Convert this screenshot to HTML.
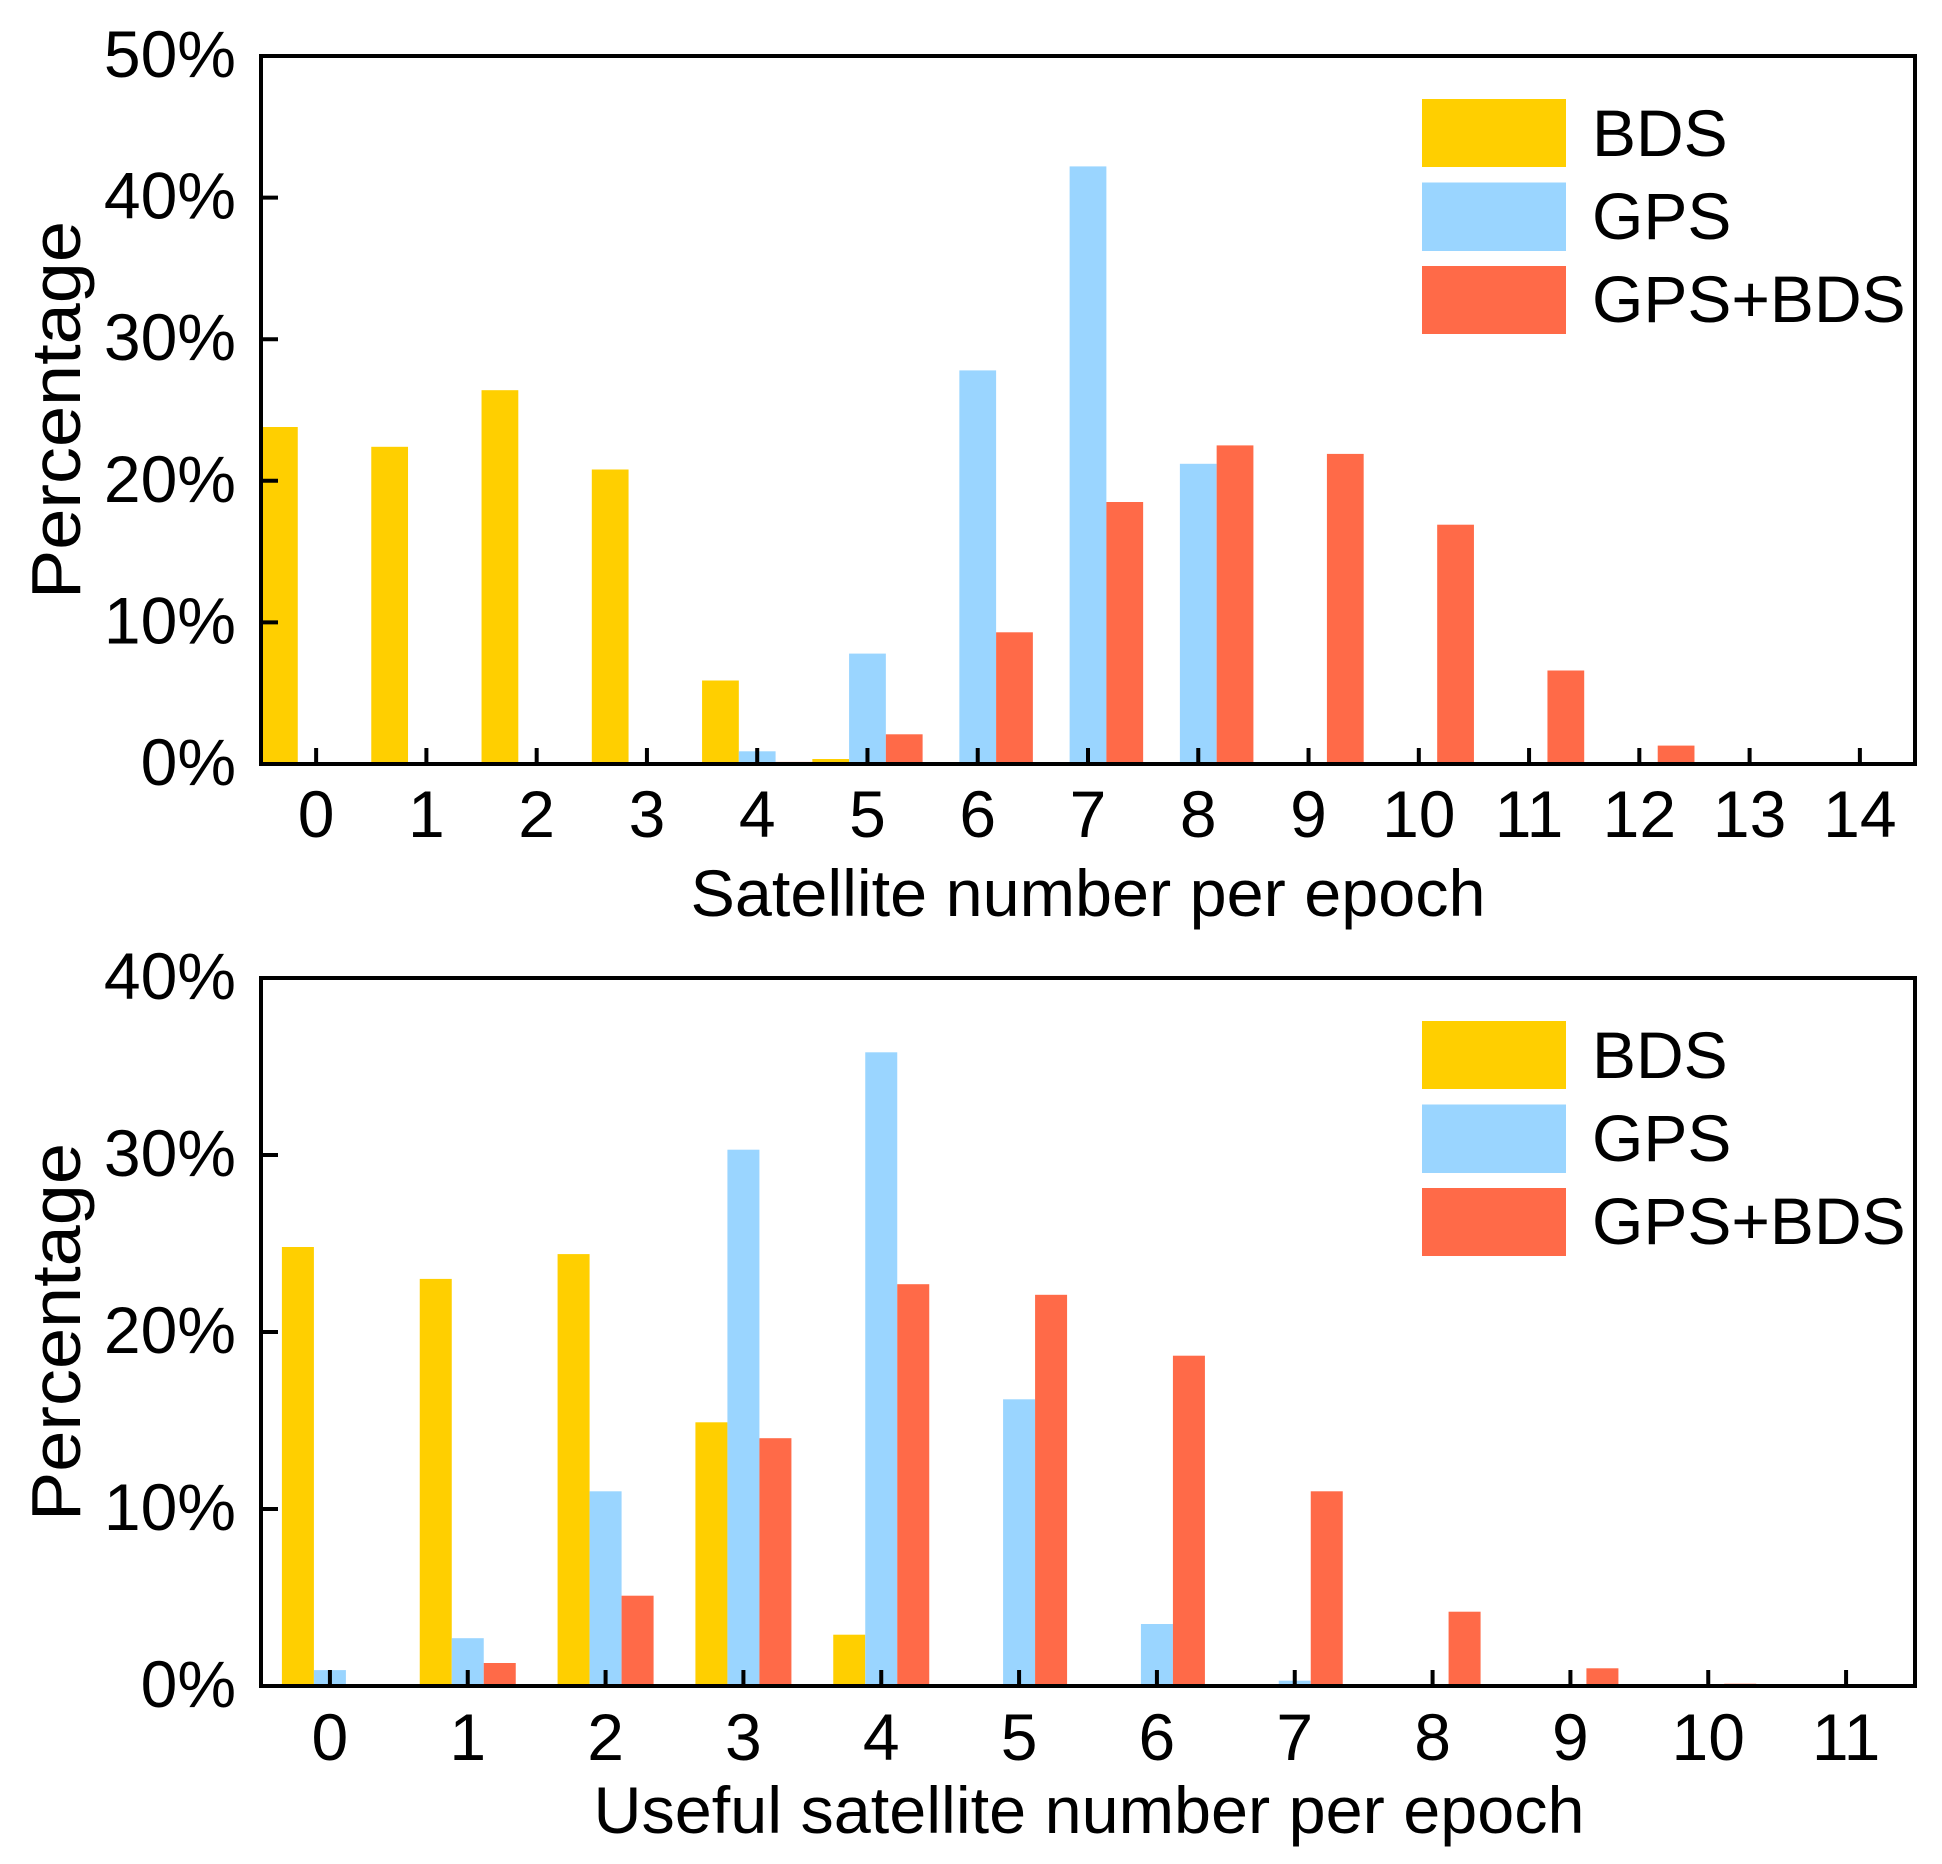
<!DOCTYPE html>
<html>
<head>
<meta charset="utf-8">
<style>
  html,body{margin:0;padding:0;background:#fff;}
  svg{display:block;}
  text{font-family:"Liberation Sans",Arial,sans-serif;fill:#000;}
</style>
</head>
<body>
<svg width="1942" height="1864" viewBox="0 0 1942 1864" xmlns="http://www.w3.org/2000/svg">
<rect x="0" y="0" width="1942" height="1864" fill="#fff"/>

<!-- ============ TOP PLOT ============ -->
<g>
  <!-- BDS -->
  <g fill="#FFCF00">
    <rect x="261.0" y="427.0" width="36.76" height="337.0"/>
    <rect x="371.27" y="446.8" width="36.76" height="317.2"/>
    <rect x="481.54" y="390.2" width="36.76" height="373.8"/>
    <rect x="591.8" y="469.5" width="36.76" height="294.5"/>
    <rect x="702.07" y="680.5" width="36.76" height="83.5"/>
    <rect x="812.34" y="759.0" width="36.76" height="5.0"/>
  </g>
  <!-- GPS -->
  <g fill="#9AD5FF">
    <rect x="738.82" y="751.3" width="36.76" height="12.7"/>
    <rect x="849.09" y="653.6" width="36.76" height="110.4"/>
    <rect x="959.35" y="370.4" width="36.76" height="393.6"/>
    <rect x="1069.62" y="166.4" width="36.76" height="597.6"/>
    <rect x="1179.89" y="463.8" width="36.76" height="300.2"/>
  </g>
  <!-- GPS+BDS -->
  <g fill="#FF6A48">
    <rect x="775.58" y="761.9" width="36.76" height="2.1"/>
    <rect x="885.85" y="734.3" width="36.76" height="29.7"/>
    <rect x="996.11" y="632.3" width="36.76" height="131.7"/>
    <rect x="1106.38" y="502.0" width="36.76" height="262.0"/>
    <rect x="1216.65" y="445.4" width="36.76" height="318.6"/>
    <rect x="1326.91" y="453.9" width="36.76" height="310.1"/>
    <rect x="1437.18" y="524.7" width="36.76" height="239.3"/>
    <rect x="1547.45" y="670.5" width="36.76" height="93.5"/>
    <rect x="1657.71" y="745.6" width="36.76" height="18.4"/>
  </g>

  <!-- ticks -->
  <g stroke="#000" stroke-width="4">
    <line x1="316.13" y1="764" x2="316.13" y2="748"/>
    <line x1="426.4" y1="764" x2="426.4" y2="748"/>
    <line x1="536.67" y1="764" x2="536.67" y2="748"/>
    <line x1="646.93" y1="764" x2="646.93" y2="748"/>
    <line x1="757.2" y1="764" x2="757.2" y2="748"/>
    <line x1="867.47" y1="764" x2="867.47" y2="748"/>
    <line x1="977.73" y1="764" x2="977.73" y2="748"/>
    <line x1="1088.0" y1="764" x2="1088.0" y2="748"/>
    <line x1="1198.27" y1="764" x2="1198.27" y2="748"/>
    <line x1="1308.53" y1="764" x2="1308.53" y2="748"/>
    <line x1="1418.8" y1="764" x2="1418.8" y2="748"/>
    <line x1="1529.07" y1="764" x2="1529.07" y2="748"/>
    <line x1="1639.33" y1="764" x2="1639.33" y2="748"/>
    <line x1="1749.6" y1="764" x2="1749.6" y2="748"/>
    <line x1="1859.87" y1="764" x2="1859.87" y2="748"/>
    <line x1="261" y1="622.4" x2="278" y2="622.4"/>
    <line x1="261" y1="480.8" x2="278" y2="480.8"/>
    <line x1="261" y1="339.2" x2="278" y2="339.2"/>
    <line x1="261" y1="197.6" x2="278" y2="197.6"/>
  </g>
  <rect x="261" y="56" width="1654" height="708" fill="none" stroke="#000" stroke-width="4"/>

  <!-- y tick labels -->
  <g font-size="66" text-anchor="end">
    <text x="236" y="785">0%</text>
    <text x="236" y="643.4">10%</text>
    <text x="236" y="501.8">20%</text>
    <text x="236" y="360.2">30%</text>
    <text x="236" y="218.6">40%</text>
    <text x="236" y="77">50%</text>
  </g>
  <!-- x tick labels -->
  <g font-size="66" text-anchor="middle">
    <text x="316.13" y="837">0</text>
    <text x="426.4" y="837">1</text>
    <text x="536.67" y="837">2</text>
    <text x="646.93" y="837">3</text>
    <text x="757.2" y="837">4</text>
    <text x="867.47" y="837">5</text>
    <text x="977.73" y="837">6</text>
    <text x="1088.0" y="837">7</text>
    <text x="1198.27" y="837">8</text>
    <text x="1308.53" y="837">9</text>
    <text x="1418.8" y="837">10</text>
    <text x="1529.07" y="837">11</text>
    <text x="1639.33" y="837">12</text>
    <text x="1749.6" y="837">13</text>
    <text x="1859.87" y="837">14</text>
  </g>
  <text x="1088" y="916" font-size="66" text-anchor="middle" textLength="795" lengthAdjust="spacingAndGlyphs">Satellite number per epoch</text>
  <text transform="translate(80,410) rotate(-90)" font-size="70" text-anchor="middle" textLength="378" lengthAdjust="spacingAndGlyphs">Percentage</text>

  <!-- legend -->
  <rect x="1422" y="99" width="144" height="68" fill="#FFCF00"/>
  <rect x="1422" y="182.5" width="144" height="68.5" fill="#9AD5FF"/>
  <rect x="1422" y="266" width="144" height="68" fill="#FF6A48"/>
  <g font-size="66">
    <text x="1592" y="156">BDS</text>
    <text x="1592" y="239">GPS</text>
    <text x="1592" y="322">GPS+BDS</text>
  </g>
</g>

<!-- ============ BOTTOM PLOT ============ -->
<g>
  <!-- BDS -->
  <g fill="#FFCF00">
    <rect x="281.9" y="1247.0" width="32" height="439.0"/>
    <rect x="419.75" y="1278.9" width="32" height="407.1"/>
    <rect x="557.58" y="1254.1" width="32" height="431.9"/>
    <rect x="695.42" y="1422.3" width="32" height="263.7"/>
    <rect x="833.25" y="1634.7" width="32" height="51.3"/>
  </g>
  <!-- GPS -->
  <g fill="#9AD5FF">
    <rect x="313.9" y="1670.1" width="32" height="15.9"/>
    <rect x="451.75" y="1638.2" width="32" height="47.8"/>
    <rect x="589.58" y="1491.3" width="32" height="194.7"/>
    <rect x="727.42" y="1149.7" width="32" height="536.3"/>
    <rect x="865.25" y="1052.3" width="32" height="633.7"/>
    <rect x="1003.08" y="1399.3" width="32" height="286.7"/>
    <rect x="1140.92" y="1624.0" width="32" height="62.0"/>
    <rect x="1278.75" y="1680.7" width="32" height="5.3"/>
  </g>
  <!-- GPS+BDS -->
  <g fill="#FF6A48">
    <rect x="483.75" y="1663.0" width="32" height="23.0"/>
    <rect x="621.58" y="1595.7" width="32" height="90.3"/>
    <rect x="759.42" y="1438.2" width="32" height="247.8"/>
    <rect x="897.25" y="1284.2" width="32" height="401.8"/>
    <rect x="1035.08" y="1294.8" width="32" height="391.2"/>
    <rect x="1172.92" y="1355.7" width="32" height="330.3"/>
    <rect x="1310.75" y="1491.3" width="32" height="194.7"/>
    <rect x="1448.58" y="1611.7" width="32" height="74.3"/>
    <rect x="1586.42" y="1668.3" width="32" height="17.7"/>
    <rect x="1724.25" y="1683.7" width="32" height="2.3"/>
  </g>

  <!-- ticks -->
  <g stroke="#000" stroke-width="4">
    <line x1="329.92" y1="1686" x2="329.92" y2="1670"/>
    <line x1="467.75" y1="1686" x2="467.75" y2="1670"/>
    <line x1="605.58" y1="1686" x2="605.58" y2="1670"/>
    <line x1="743.42" y1="1686" x2="743.42" y2="1670"/>
    <line x1="881.25" y1="1686" x2="881.25" y2="1670"/>
    <line x1="1019.08" y1="1686" x2="1019.08" y2="1670"/>
    <line x1="1156.92" y1="1686" x2="1156.92" y2="1670"/>
    <line x1="1294.75" y1="1686" x2="1294.75" y2="1670"/>
    <line x1="1432.58" y1="1686" x2="1432.58" y2="1670"/>
    <line x1="1570.42" y1="1686" x2="1570.42" y2="1670"/>
    <line x1="1708.25" y1="1686" x2="1708.25" y2="1670"/>
    <line x1="1846.08" y1="1686" x2="1846.08" y2="1670"/>
    <line x1="261" y1="1509" x2="278" y2="1509"/>
    <line x1="261" y1="1332" x2="278" y2="1332"/>
    <line x1="261" y1="1155" x2="278" y2="1155"/>
  </g>
  <rect x="261" y="978" width="1654" height="708" fill="none" stroke="#000" stroke-width="4"/>

  <!-- y tick labels -->
  <g font-size="66" text-anchor="end">
    <text x="236" y="1707">0%</text>
    <text x="236" y="1530">10%</text>
    <text x="236" y="1353">20%</text>
    <text x="236" y="1176">30%</text>
    <text x="236" y="999">40%</text>
  </g>
  <!-- x tick labels -->
  <g font-size="66" text-anchor="middle">
    <text x="329.92" y="1760">0</text>
    <text x="467.75" y="1760">1</text>
    <text x="605.58" y="1760">2</text>
    <text x="743.42" y="1760">3</text>
    <text x="881.25" y="1760">4</text>
    <text x="1019.08" y="1760">5</text>
    <text x="1156.92" y="1760">6</text>
    <text x="1294.75" y="1760">7</text>
    <text x="1432.58" y="1760">8</text>
    <text x="1570.42" y="1760">9</text>
    <text x="1708.25" y="1760">10</text>
    <text x="1846.08" y="1760">11</text>
  </g>
  <text x="1089" y="1833" font-size="66" text-anchor="middle" textLength="991" lengthAdjust="spacingAndGlyphs">Useful satellite number per epoch</text>
  <text transform="translate(80,1332) rotate(-90)" font-size="70" text-anchor="middle" textLength="378" lengthAdjust="spacingAndGlyphs">Percentage</text>

  <!-- legend -->
  <rect x="1422" y="1021" width="144" height="68" fill="#FFCF00"/>
  <rect x="1422" y="1104.5" width="144" height="68.5" fill="#9AD5FF"/>
  <rect x="1422" y="1188" width="144" height="68" fill="#FF6A48"/>
  <g font-size="66">
    <text x="1592" y="1078">BDS</text>
    <text x="1592" y="1161">GPS</text>
    <text x="1592" y="1244">GPS+BDS</text>
  </g>
</g>
</svg>
</body>
</html>
